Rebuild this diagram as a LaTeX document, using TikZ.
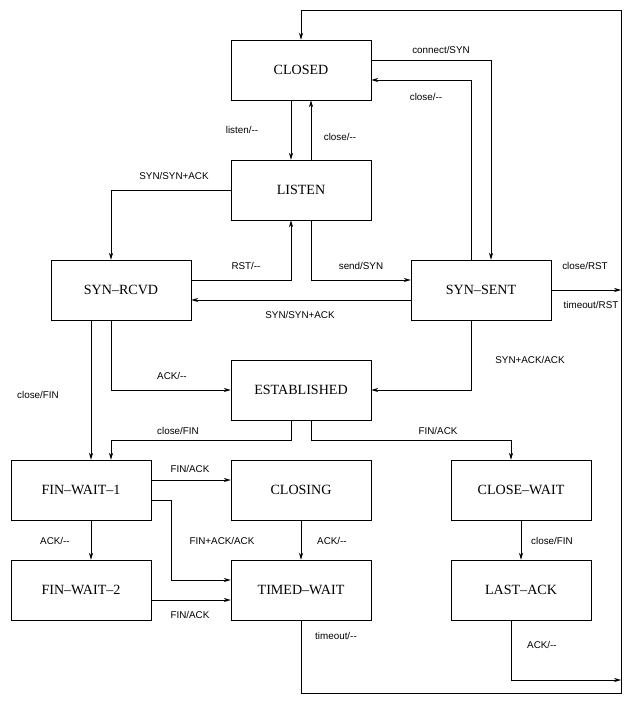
\documentclass[tikz,border=0pt]{standalone}
\usepackage{fontspec}
\setmainfont{Liberation Serif}
\newfontfamily\lblfont{Liberation Sans}
\usetikzlibrary{arrows.meta,calc}
\begin{document}
\begin{tikzpicture}[x=0.025cm, y=-0.025cm,
    state/.style={draw, minimum width=3.5cm, minimum height=1.5cm, align=center, font=\normalsize},
    arrow/.style={-{Stealth[length=5pt,width=3pt]}, semithick},
    lbl/.style={font=\lblfont\scriptsize, inner sep=1pt}
  ]
  \useasboundingbox (0,0) rectangle (641,707);
  % states
  \node[state] (closed) at (301,70) {CLOSED};
  \node[state] (listen) at (301,190) {LISTEN};
  \node[state] (synrcvd) at (121,290) {SYN--RCVD};
  \node[state] (synsent) at (481,290) {SYN--SENT};
  \node[state] (estab) at (301,390) {ESTABLISHED};
  \node[state] (fw1) at (81,490) {FIN--WAIT--1};
  \node[state] (closing) at (301,490) {CLOSING};
  \node[state] (closewait) at (521,490) {CLOSE--WAIT};
  \node[state] (fw2) at (81,590) {FIN--WAIT--2};
  \node[state] (timewait) at (301,590) {TIMED--WAIT};
  \node[state] (lastack) at (521,590) {LAST--ACK};
  \coordinate (rst) at (621,290);
  \coordinate (back) at (621,680);

  \draw[arrow] ($(closed.south)+(-10,0)$) -- ($(listen.north)+(-10,0)$);
  \draw[arrow] ($(listen.north)+(10,0)$) -- ($(closed.south)+(10,0)$);
  \draw[arrow] ($(closed.east)+(0,-10)$) -| ($(synsent.north)+(10,0)$);
  \draw[arrow] ($(synsent.north)+(-10,0)$) |- ($(closed.east)+(0,10)$);
  \draw[arrow] (listen.west) -| ($(synrcvd.north)+(-10,0)$);
  \draw[arrow] ($(synrcvd.east)+(0,-10)$) -| ($(listen.south)+(-10,0)$);
  \draw[arrow] ($(listen.south)+(10,0)$) |- ($(synsent.west)+(0,-10)$);
  \draw[arrow] ($(synsent.west)+(0,10)$) -- ($(synrcvd.east)+(0,10)$);
  \draw[arrow] (synsent.east) -- (rst);
  \draw[arrow] ($(synrcvd.south)+(-10,0)$) |- (estab.west);
  \draw[arrow] ($(synsent.south)+(-10,0)$) |- (estab.east);
  \draw[arrow] ($(synrcvd.south)+(-30,0)$) -- ($(fw1.north)+(10,0)$);
  \draw[arrow] ($(estab.south)+(-10,0)$) |- (111,440) -- ($(fw1.north)+(30,0)$);
  \draw[arrow] ($(estab.south)+(10,0)$) |- (511,440) -- ($(closewait.north)+(-10,0)$);
  \draw[arrow] ($(fw1.east)+(0,-10)$) -- ($(closing.west)+(0,-10)$);
  \draw[arrow] ($(fw1.east)+(0,10)$) -- (171,500) |- ($(timewait.west)+(0,-10)$);
  \draw[arrow] ($(fw1.south)+(10,0)$) -- ($(fw2.north)+(10,0)$);
  \draw[arrow] (closing.south) -- (timewait.north);
  \draw[arrow] ($(fw2.east)+(0,10)$) -- ($(timewait.west)+(0,10)$);
  \draw[arrow] (closewait.south) -- (lastack.north);
  \draw[arrow] ($(lastack.south)+(-10,0)$) |- (back);
  \draw[arrow] (timewait.south) |- (621,693) -- (621,10) -| (closed.north);

  % labels
  \node[lbl] at (242,130) {listen/--};
  \node[lbl] at (340,137) {close/--};
  \node[lbl] at (441,50) {connect/SYN};
  \node[lbl] at (426,97) {close/--};
  \node[lbl] at (174,176) {SYN/SYN+ACK};
  \node[lbl] at (246,266) {RST/--};
  \node[lbl] at (361,266) {send/SYN};
  \node[lbl] at (300,315) {SYN/SYN+ACK};
  \node[lbl] at (585,266) {close/RST};
  \node[lbl] at (591,305) {timeout/RST};
  \node[lbl] at (172,376) {ACK/--};
  \node[lbl] at (530,360) {SYN+ACK/ACK};
  \node[lbl] at (38,395) {close/FIN};
  \node[lbl] at (178,431) {close/FIN};
  \node[lbl] at (438,431) {FIN/ACK};
  \node[lbl] at (190,469) {FIN/ACK};
  \node[lbl] at (222,541) {FIN+ACK/ACK};
  \node[lbl] at (55,541) {ACK/--};
  \node[lbl] at (332,541) {ACK/--};
  \node[lbl] at (190,615) {FIN/ACK};
  \node[lbl] at (552,541) {close/FIN};
  \node[lbl] at (542,645) {ACK/--};
  \node[lbl] at (336,636) {timeout/--};
\end{tikzpicture}
\end{document}
